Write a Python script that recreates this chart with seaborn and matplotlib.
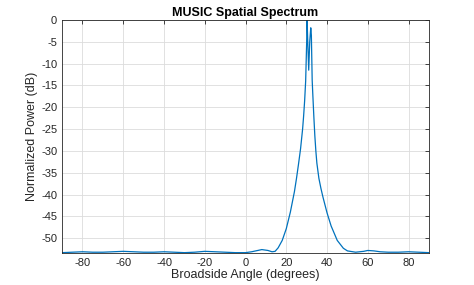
import matplotlib
matplotlib.use("Agg")
import matplotlib.pyplot as plt
import seaborn as sns
import pandas as pd

angles = [-90, -85, -80, -75, -70, -65, -60, -55, -50, -45, -40, -35, -30, -25, -20, -15,
          -10, -5, 0, 3, 5, 8, 11, 13, 14.5, 16, 18, 20, 22, 24, 25, 26, 27, 28, 28.5,
          29, 29.5, 30, 30.2, 30.6, 31.0, 31.5, 32.0, 32.3, 32.7, 33.0, 33.5, 34.0,
          34.5, 35.0, 36.0, 37.0, 38.0, 40.0, 42.0, 45.0, 48.0, 50.0, 54.0, 58.0, 60.0,
          63.0, 66.0, 70.0, 75.0, 80.0, 85.0, 90.0]
power_db = [-53.3, -53.2, -53.1, -53.2, -53.2, -53.1, -53.0, -53.1, -53.2, -53.2, -53.1,
            -53.2, -53.3, -53.2, -53.0, -53.1, -53.2, -53.3, -53.3, -53.1, -52.9, -52.6,
            -52.8, -53.1, -53.0, -52.2, -50.5, -47.8, -44.0, -39.3, -36.3, -33.0, -29.5,
            -25.0, -22.0, -18.5, -14.0, -5.0, 0.0, -6.0, -11.5, -5.0, -1.8, -3.5, -13.8,
            -17.0, -22.0, -26.5, -30.0, -32.8, -36.3, -38.6, -40.6, -44.2, -47.2, -50.5,
            -52.3, -52.9, -53.2, -53.0, -52.8, -52.9, -53.1, -53.2, -53.2, -53.1, -53.2,
            -53.3]

x_ticks = [-80, -60, -40, -20, 0, 20, 40, 60, 80]
y_ticks = [0, -5, -10, -15, -20, -25, -30, -35, -40, -45, -50]

df = pd.DataFrame({"angle": angles, "power": power_db})

sns.set_style("white")
plt.rcParams["font.family"] = ["Liberation Sans", "DejaVu Sans"]

fig = plt.figure(figsize=(4.74, 2.85), dpi=100)
ax = fig.add_axes([0.131, 0.112, 0.774, 0.818])

sns.lineplot(data=df, x="angle", y="power", ax=ax, color="#0072BD", linewidth=0.9)

ax.set_xlim(-90, 90)
ax.set_ylim(-53.4, 0)
ax.set_xticks(x_ticks)
ax.set_yticks(y_ticks)
ax.set_xticklabels([str(t) for t in x_ticks])
ax.set_yticklabels([str(t) for t in y_ticks])
ax.grid(True, color="#dcdcdc", linewidth=0.6)
ax.set_axisbelow(True)
for s in ax.spines.values():
    s.set_color("#262626")
    s.set_linewidth(0.6)
    s.set_visible(True)
ax.tick_params(direction="in", length=3, width=0.6, colors="#262626", labelsize=8,
               top=True, right=True, labelcolor="#262626")
ax.set_xlabel("Broadside Angle (degrees)", fontsize=9, color="#262626", labelpad=1)
ax.set_ylabel("Normalized Power (dB)", fontsize=9, color="#262626", labelpad=2)
ax.set_title("MUSIC Spatial Spectrum", fontsize=9, fontweight="bold", color="black", pad=3)

fig.savefig("out.png", dpi=100, facecolor="white")
